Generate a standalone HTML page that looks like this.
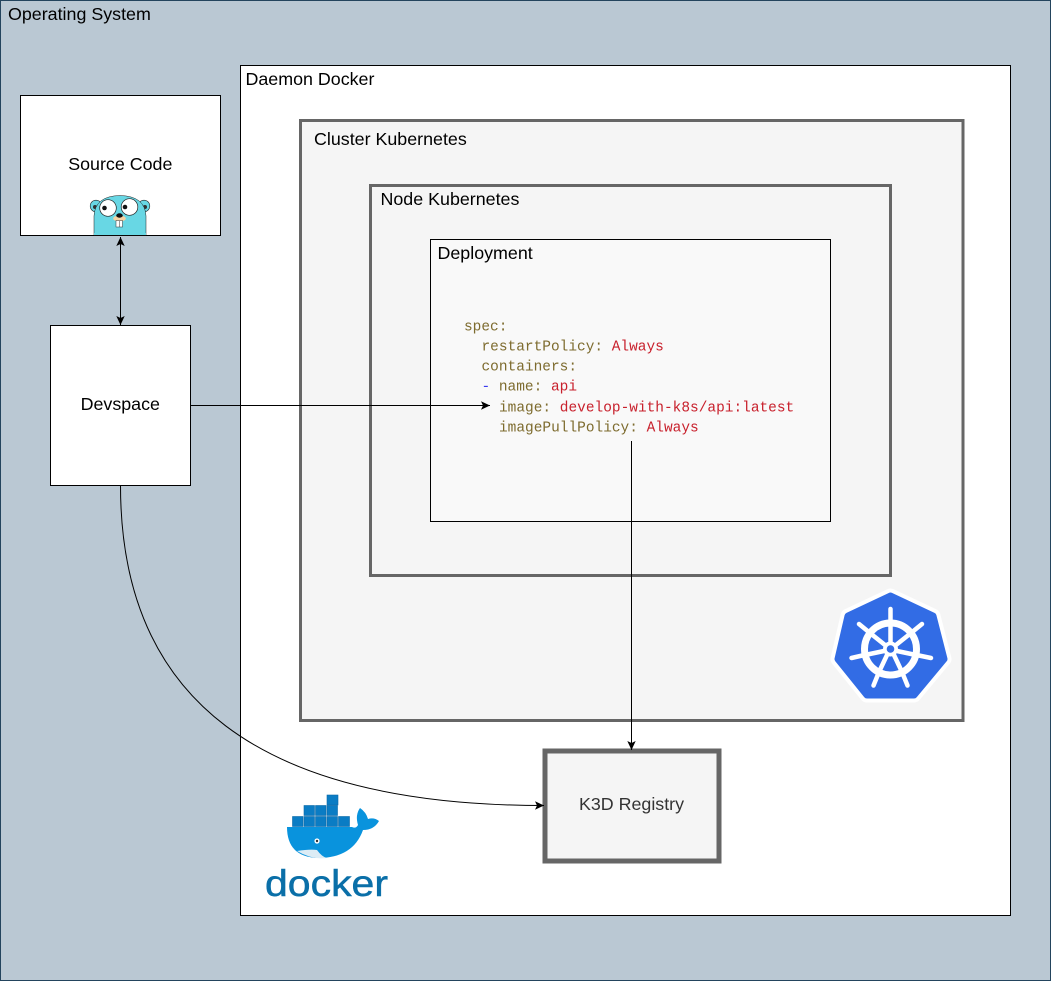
<!DOCTYPE html>
<html>
<head>
<meta charset="utf-8">
<style>
html,body{margin:0;padding:0;background:#fff;}
svg{display:block;}
text{font-family:"Liberation Sans",sans-serif;font-size:17.85px;fill:#000;}
.c{font-family:"Liberation Mono","DejaVu Sans Mono",monospace;font-size:14.47px;}
.k{fill:#7d6b2e;}
.v{fill:#c8202c;}
.d{fill:#3a3aee;}
</style>
</head>
<body>
<svg width="1051" height="981" viewBox="0 0 1051 981" xmlns="http://www.w3.org/2000/svg">
<defs>
<marker id="a" viewBox="0 0 10 10" refX="9.5" refY="5" markerWidth="10" markerHeight="10" markerUnits="userSpaceOnUse" orient="auto-start-reverse">
<path d="M0.5 0.8 L9.5 5 L0.5 9.2 L2.5 5 Z" fill="#000"/>
</marker>
</defs>

<rect x="0.5" y="0.5" width="1050" height="980" fill="#bac8d3" stroke="#23445d"/>
<text x="8" y="20">Operating System</text>

<rect x="240.5" y="65.5" width="770" height="850" fill="#fff" stroke="#000"/>
<text x="245.500" y="85">Daemon Docker</text>

<rect x="300.500" y="120.500" width="662.500" height="600" fill="#f5f5f5" stroke="#666" stroke-width="3"/>
<text x="314" y="145">Cluster Kubernetes</text>

<rect x="370.500" y="185.500" width="520" height="390" fill="#f5f5f5" stroke="#666" stroke-width="3"/>
<text x="380.500" y="205">Node Kubernetes</text>

<rect x="430.500" y="239.500" width="400" height="282" fill="#f9f9f9" stroke="#000"/>
<text x="437.500" y="259">Deployment</text>

<text class="c k" x="464" y="330.300">spec:</text>
<text class="c" x="481.500" y="350.300"><tspan class="k">restartPolicy:</tspan> <tspan class="v">Always</tspan></text>
<text class="c k" x="481.500" y="370.300">containers:</text>
<text class="c" x="481.500" y="390.300"><tspan class="d">-</tspan> <tspan class="k">name:</tspan> <tspan class="v">api</tspan></text>
<text class="c" x="499" y="411.300"><tspan class="k">image:</tspan> <tspan class="v">develop-with-k8s/api:latest</tspan></text>
<text class="c" x="499" y="431.300"><tspan class="k">imagePullPolicy:</tspan> <tspan class="v">Always</tspan></text>

<!-- Source Code -->
<rect x="20.500" y="95.500" width="200" height="140" fill="#fff" stroke="#000"/>
<text x="120.300" y="170" text-anchor="middle">Source Code</text>
<!-- Gopher -->
<g>
<circle cx="96" cy="206" r="5.800" fill="#68d7e4" stroke="#222" stroke-width="0.6"/>
<circle cx="144" cy="206" r="5.800" fill="#68d7e4" stroke="#222" stroke-width="0.6"/>
<circle cx="95" cy="207" r="2" fill="#333"/>
<circle cx="145" cy="207" r="2" fill="#333"/>
<path d="M94 235 L94 216 Q95 196 120 195.500 Q145 196 146 216 L146 235 Z" fill="#68d7e4" stroke="#222" stroke-width="0.5"/>
<rect x="94" y="233" width="52" height="2" fill="#68d7e4"/>
<circle cx="108" cy="208" r="8.300" fill="#fff" stroke="#222" stroke-width="0.7"/>
<circle cx="129.500" cy="207" r="8.300" fill="#fff" stroke="#222" stroke-width="0.7"/>
<circle cx="104.500" cy="208" r="2.300" fill="#111"/>
<circle cx="125" cy="207" r="2.300" fill="#111"/>
<ellipse cx="119.500" cy="218.500" rx="6.300" ry="3" fill="#f6d2a2"/>
<ellipse cx="119.500" cy="215.500" rx="3.300" ry="2.200" fill="#111"/>
<rect x="116" y="220.500" width="6.500" height="6.500" fill="#fff" stroke="#333" stroke-width="0.5"/>
<line x1="119.250" y1="221" x2="119.250" y2="227" stroke="#333" stroke-width="0.5"/>
</g>

<!-- Devspace -->
<rect x="50.500" y="325.500" width="140" height="160" fill="#fff" stroke="#000"/>
<text x="120.300" y="410" text-anchor="middle">Devspace</text>

<!-- K3D Registry -->
<rect x="545" y="751" width="174" height="110" fill="#f5f5f5" stroke="#666" stroke-width="5"/>
<text x="631.500" y="810" text-anchor="middle" style="fill:#333">K3D Registry</text>

<!-- Kubernetes logo -->
<g stroke-linejoin="round">
<path d="M890.500 596 L933 616 L944 659 L914 695 L867 695 L838 659 L848 616 Z" fill="#fff" stroke="#fff" stroke-width="15"/>
<path d="M890.500 596 L933 616 L944 659 L914 695 L867 695 L838 659 L848 616 Z" fill="#326ce5" stroke="#326ce5" stroke-width="7"/>
<circle cx="890.500" cy="649" r="26" fill="none" stroke="#fff" stroke-width="7"/>
<g stroke="#fff" stroke-linecap="round" fill="none">
<g stroke-width="4.500">
<line x1="890.500" y1="609" x2="890.500" y2="622"/>
<line x1="859" y1="624" x2="870" y2="633"/>
<line x1="922" y1="624" x2="911" y2="633"/>
<line x1="851.500" y1="658" x2="864.500" y2="655"/>
<line x1="931" y1="658" x2="916.500" y2="655"/>
<line x1="873.500" y1="685.500" x2="879" y2="672"/>
<line x1="907.500" y1="685.500" x2="902" y2="672"/>
</g>
<g stroke-width="4.500">
<line x1="890.500" y1="624" x2="890.500" y2="642"/>
<line x1="870" y1="633" x2="885" y2="645"/>
<line x1="911" y1="633" x2="896" y2="645"/>
<line x1="865" y1="655" x2="884" y2="651"/>
<line x1="916" y1="655" x2="897" y2="651"/>
<line x1="879" y1="672" x2="887" y2="655"/>
<line x1="902" y1="672" x2="894" y2="655"/>
</g>
</g>
<circle cx="890.500" cy="649" r="7.500" fill="#fff"/>
<circle cx="890.500" cy="649" r="3.800" fill="#326ce5"/>
</g>

<!-- Docker logo -->
<g>
<path d="M287 827 L352 827 Q356 829 358 825 Q355 815 360 808 Q366 812 368 819 Q374 817 379 821 Q374 830 363 830 Q353 858 318 858 Q287 857 287 827 Z" fill="#0993dd"/>
<path d="M297 851 Q310 849 317 850 Q322 857 327 858 Q312 860 297 851 Z" fill="#dcecf5"/>
<circle cx="317" cy="841" r="2.600" fill="#fff"/>
<circle cx="317" cy="841" r="1.200" fill="#333"/>
<g fill="#0a7cc4" stroke="#0a6aa8" stroke-width="0.6">
<rect x="292.500" y="816.500" width="10.500" height="10"/>
<rect x="304" y="816.500" width="10.500" height="10"/>
<rect x="315.500" y="816.500" width="10.500" height="10"/>
<rect x="327" y="816.500" width="10.500" height="10"/>
<rect x="338.500" y="816.500" width="11" height="10"/>
<rect x="304" y="805.500" width="10.500" height="10"/>
<rect x="315.500" y="805.500" width="10.500" height="10"/>
<rect x="327" y="805.500" width="10.500" height="10"/>
<rect x="327" y="795" width="11" height="10"/>
</g>
<text x="265" y="896" textLength="123" lengthAdjust="spacingAndGlyphs" style="font-size:37px;fill:#0a6fa8;stroke:#0a6fa8;stroke-width:0.5px">docker</text>
</g>

<!-- Connectors -->
<g fill="none" stroke="#000" stroke-width="1">
<line x1="120.500" y1="237" x2="120.500" y2="325" marker-start="url(#a)" marker-end="url(#a)"/>
<line x1="190.500" y1="405.500" x2="490" y2="405.500" marker-end="url(#a)"/>
<line x1="631.500" y1="441" x2="631.500" y2="750" marker-end="url(#a)"/>
<path d="M120.500 485.500 C120.500 700 260 805.500 544 805.500" marker-end="url(#a)"/>
</g>
</svg>
</body>
</html>
